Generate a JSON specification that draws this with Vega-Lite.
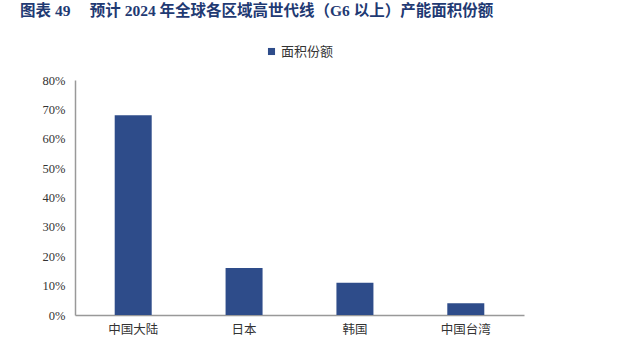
{
  "$schema": "https://vega.github.io/schema/vega-lite/v6.json",
  "width": 449,
  "height": 235,
  "autosize": {"type": "none"},
  "padding": {"left": 75, "top": 80, "right": 116, "bottom": 44},
  "background": "white",
  "title": {
    "text": "图表 49\u3000 预计 2024 年全球各区域高世代线（G6 以上）产能面积份额",
    "anchor": "start",
    "frame": "group",
    "dx": -55,
    "dy": -22,
    "font": "Liberation Serif, Noto Sans CJK SC",
    "fontSize": 15.5,
    "fontWeight": "bold",
    "color": "#1F3A73",
    "baseline": "top"
  },
  "data": {
    "values": [
      {"region": "中国大陆", "share": 0.68, "series": "面积份额"},
      {"region": "日本", "share": 0.16, "series": "面积份额"},
      {"region": "韩国", "share": 0.11, "series": "面积份额"},
      {"region": "中国台湾", "share": 0.04, "series": "面积份额"}
    ]
  },
  "mark": {"type": "bar", "width": 37},
  "encoding": {
    "x": {
      "field": "region",
      "type": "nominal",
      "sort": null,
      "title": null,
      "scale": {"paddingInner": 0.67, "paddingOuter": 0.36},
      "axis": {
        "labelAngle": 0,
        "ticks": false,
        "domainColor": "#999999",
        "domainWidth": 1.5,
        "labelFont": "Noto Sans CJK SC",
        "labelFontSize": 12.5,
        "labelColor": "#333333",
        "labelPadding": 8,
        "grid": false
      }
    },
    "y": {
      "field": "share",
      "type": "quantitative",
      "title": null,
      "scale": {"domain": [0, 0.8]},
      "axis": {
        "format": ".0%",
        "values": [0, 0.1, 0.2, 0.3, 0.4, 0.5, 0.6, 0.7, 0.8],
        "ticks": false,
        "grid": false,
        "domainColor": "#999999",
        "domainWidth": 1.5,
        "labelFont": "Liberation Serif",
        "labelFontSize": 12.5,
        "labelColor": "#333333",
        "labelPadding": 10
      }
    },
    "color": {
      "field": "series",
      "type": "nominal",
      "scale": {"range": ["#2E4C8A"]},
      "legend": {
        "title": null,
        "orient": "none",
        "legendX": 190,
        "legendY": -35,
        "symbolType": "square",
        "symbolSize": 50,
        "labelFont": "Noto Sans CJK SC",
        "labelFontSize": 13,
        "labelColor": "#333333",
        "labelOffset": 3
      }
    }
  },
  "config": {"view": {"stroke": null}}
}
